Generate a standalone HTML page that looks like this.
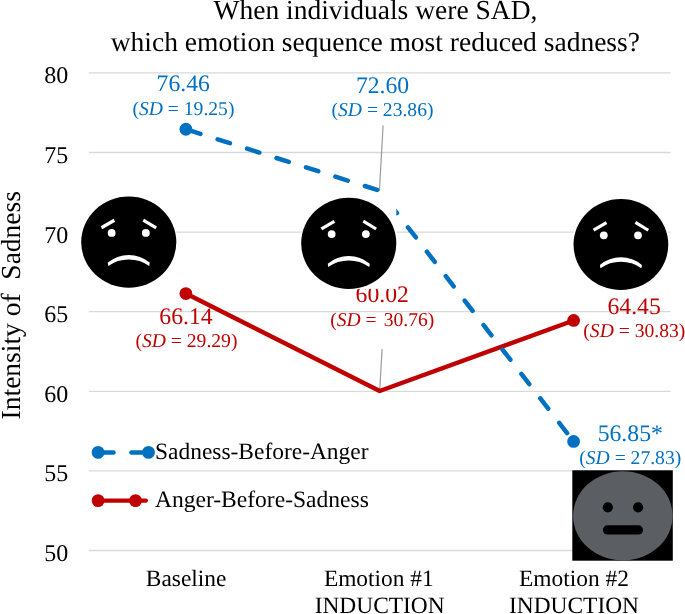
<!DOCTYPE html><html><head><meta charset="utf-8"><style>html,body{margin:0;padding:0;background:#fff;overflow:hidden;}svg{display:block;}text{font-family:"Liberation Serif","Times New Roman",serif;text-rendering:geometricPrecision;}</style></head><body>
<svg width="685" height="614" viewBox="0 0 685 614">
<rect width="685" height="614" fill="#fff"/>
<line x1="88.9" y1="72.90" x2="670.6" y2="72.90" stroke="#d9d9d9" stroke-width="1.3"/>
<line x1="88.9" y1="152.50" x2="670.6" y2="152.50" stroke="#d9d9d9" stroke-width="1.3"/>
<line x1="88.9" y1="232.10" x2="670.6" y2="232.10" stroke="#d9d9d9" stroke-width="1.3"/>
<line x1="88.9" y1="311.70" x2="670.6" y2="311.70" stroke="#d9d9d9" stroke-width="1.3"/>
<line x1="88.9" y1="391.30" x2="670.6" y2="391.30" stroke="#d9d9d9" stroke-width="1.3"/>
<line x1="88.9" y1="470.90" x2="670.6" y2="470.90" stroke="#d9d9d9" stroke-width="1.3"/>
<line x1="88.9" y1="550.50" x2="670.6" y2="550.50" stroke="#d9d9d9" stroke-width="1.3"/>
<text x="44.31" y="83.30" font-size="24.0">80</text>
<text x="44.34" y="162.90" font-size="24.0">75</text>
<text x="44.31" y="242.50" font-size="24.0">70</text>
<text x="44.34" y="322.10" font-size="24.0">65</text>
<text x="44.31" y="401.70" font-size="24.0">60</text>
<text x="44.34" y="481.30" font-size="24.0">55</text>
<text x="44.31" y="560.90" font-size="24.0">50</text>
<text x="213.55" y="19.40" font-size="27.5" fill="#000" xml:space="preserve">When individuals were SAD,</text>
<text x="110.76" y="51.40" font-size="27.5" fill="#000" xml:space="preserve">which emotion sequence most reduced sadness?</text>
<text transform="translate(19.80,305.20) rotate(-90)" x="-114.21" y="0" font-size="27.5" xml:space="preserve">Intensity of  Sadness</text>
<text x="145.83" y="585.90" font-size="23.4" fill="#000" xml:space="preserve">Baseline</text>
<text x="323.90" y="586.30" font-size="23.4" fill="#000" xml:space="preserve">Emotion #1</text>
<text x="314.69" y="612.70" font-size="23.4" fill="#000" xml:space="preserve">INDUCTION</text>
<text x="519.05" y="586.30" font-size="23.4" fill="#000" xml:space="preserve">Emotion #2</text>
<text x="509.04" y="612.70" font-size="23.4" fill="#000" xml:space="preserve">INDUCTION</text>
<line x1="383.1" y1="125.5" x2="379.4" y2="190.6" stroke="#9c9c9c" stroke-width="1.2"/>
<line x1="382.1" y1="349" x2="379.7" y2="390.6" stroke="#9c9c9c" stroke-width="1.2"/>
<polyline points="185.90,293.55 379.70,390.98 573.60,320.46" fill="none" stroke="#c00000" stroke-width="4.4" stroke-linejoin="round"/>
<polyline points="185.90,129.26 379.70,190.71 573.60,441.45" fill="none" stroke="#0070c0" stroke-width="4.5" stroke-linecap="round" stroke-linejoin="round" stroke-dasharray="12.9 18.0" stroke-dashoffset="28.55"/>
<circle cx="185.90" cy="129.26" r="6.4" fill="#0070c0"/>
<circle cx="573.60" cy="441.45" r="6.4" fill="#0070c0"/>
<circle cx="185.90" cy="293.55" r="6.4" fill="#c00000"/>
<circle cx="573.60" cy="320.46" r="6.4" fill="#c00000"/>
<text x="156.61" y="91.20" font-size="23.7" fill="#0070c0" xml:space="preserve">76.46</text>
<text x="132.47" y="114.55" font-size="19.6" fill="#0070c0" xml:space="preserve">(<tspan font-style="italic">SD</tspan> =<tspan dx="0.00"> </tspan>19.25)</text>
<text x="355.92" y="92.50" font-size="23.7" fill="#0070c0" xml:space="preserve">72.60</text>
<text x="331.52" y="115.70" font-size="19.6" fill="#0070c0" xml:space="preserve">(<tspan font-style="italic">SD</tspan> =<tspan dx="0.00"> </tspan>23.86)</text>
<text x="159.32" y="324.10" font-size="23.7" fill="#c00000" xml:space="preserve">66.14</text>
<text x="135.47" y="347.40" font-size="19.6" fill="#c00000" xml:space="preserve">(<tspan font-style="italic">SD</tspan> =<tspan dx="0.00"> </tspan>29.29)</text>
<text x="355.54" y="302.20" font-size="23.7" fill="#c00000" xml:space="preserve">60.02</text>
<text x="330.17" y="325.70" font-size="19.6" fill="#c00000" xml:space="preserve">(<tspan font-style="italic">SD</tspan> =<tspan dx="2.20"> </tspan>30.76)</text>
<text x="607.50" y="314.10" font-size="23.7" fill="#c00000" xml:space="preserve">64.45</text>
<text x="583.32" y="337.40" font-size="19.6" fill="#c00000" xml:space="preserve">(<tspan font-style="italic">SD</tspan> =<tspan dx="0.00"> </tspan>30.83)</text>
<text x="597.68" y="440.50" font-size="23.7" fill="#0070c0" xml:space="preserve">56.85*</text>
<text x="579.27" y="463.80" font-size="19.6" fill="#0070c0" xml:space="preserve">(<tspan font-style="italic">SD</tspan> =<tspan dx="0.00"> </tspan>27.83)</text>
<line x1="98.1" y1="452.4" x2="113.5" y2="452.4" stroke="#0070c0" stroke-width="4.5" stroke-linecap="round"/>
<line x1="131.4" y1="452.4" x2="148.5" y2="452.4" stroke="#0070c0" stroke-width="4.5" stroke-linecap="round"/>
<circle cx="98.1" cy="452.4" r="6.4" fill="#0070c0"/><circle cx="148.5" cy="452.4" r="6.4" fill="#0070c0"/>
<line x1="98.1" y1="500.6" x2="145.8" y2="500.6" stroke="#c00000" stroke-width="4.4" stroke-linecap="round"/>
<circle cx="98.1" cy="500.6" r="6.4" fill="#c00000"/><circle cx="135.5" cy="500.6" r="6.4" fill="#c00000"/>
<text x="155.05" y="459.00" font-size="23.45">Sadness-Before-Anger</text>
<text x="154.89" y="506.90" font-size="23.55">Anger-Before-Sadness</text>
<rect x="81.20" y="196.60" width="95.10" height="91.10" fill="#fff"/>
<ellipse cx="128.75" cy="242.15" rx="47.55" ry="45.55" fill="#000"/>
<line x1="101.45" y1="227.75" x2="114.35" y2="220.25" stroke="#fff" stroke-width="3.2"/>
<line x1="143.25" y1="220.05" x2="156.15" y2="227.85" stroke="#fff" stroke-width="3.2"/>
<circle cx="111.65" cy="232.95" r="3.9" fill="#fff"/><circle cx="145.85" cy="232.95" r="3.9" fill="#fff"/>
<path d="M107.75,262.55 A32.8,32.8 0 0 1 149.75,262.55 L149.25,265.95 A35.6,35.6 0 0 0 108.25,265.95 Z" fill="#fff"/>
<rect x="301.20" y="197.70" width="95.10" height="91.20" fill="#fff"/>
<ellipse cx="348.75" cy="243.30" rx="47.55" ry="45.60" fill="#000"/>
<line x1="321.45" y1="228.90" x2="334.35" y2="221.40" stroke="#fff" stroke-width="3.2"/>
<line x1="363.25" y1="221.20" x2="376.15" y2="229.00" stroke="#fff" stroke-width="3.2"/>
<circle cx="331.65" cy="234.10" r="3.9" fill="#fff"/><circle cx="365.85" cy="234.10" r="3.9" fill="#fff"/>
<path d="M327.75,263.70 A32.8,32.8 0 0 1 369.75,263.70 L369.25,267.10 A35.6,35.6 0 0 0 328.25,267.10 Z" fill="#fff"/>
<rect x="573.50" y="199.10" width="94.80" height="90.90" fill="#fff"/>
<ellipse cx="620.90" cy="244.55" rx="47.40" ry="45.45" fill="#000"/>
<line x1="593.60" y1="230.15" x2="606.50" y2="222.65" stroke="#fff" stroke-width="3.2"/>
<line x1="635.40" y1="222.45" x2="648.30" y2="230.25" stroke="#fff" stroke-width="3.2"/>
<circle cx="603.80" cy="235.35" r="3.9" fill="#fff"/><circle cx="638.00" cy="235.35" r="3.9" fill="#fff"/>
<path d="M599.90,264.95 A32.8,32.8 0 0 1 641.90,264.95 L641.40,268.35 A35.6,35.6 0 0 0 600.40,268.35 Z" fill="#fff"/>
<rect x="572.3" y="470.3" width="100.5" height="90.4" fill="#000"/>
<ellipse cx="622.85" cy="515.85" rx="49.75" ry="44.55" fill="#5b5e62"/>
<circle cx="607.8" cy="507.4" r="5.1" fill="#000"/><circle cx="638.1" cy="507.4" r="5.1" fill="#000"/>
<rect x="602.9" y="525.3" width="40.1" height="9.2" rx="4.6" fill="#000"/>
</svg></body></html>
